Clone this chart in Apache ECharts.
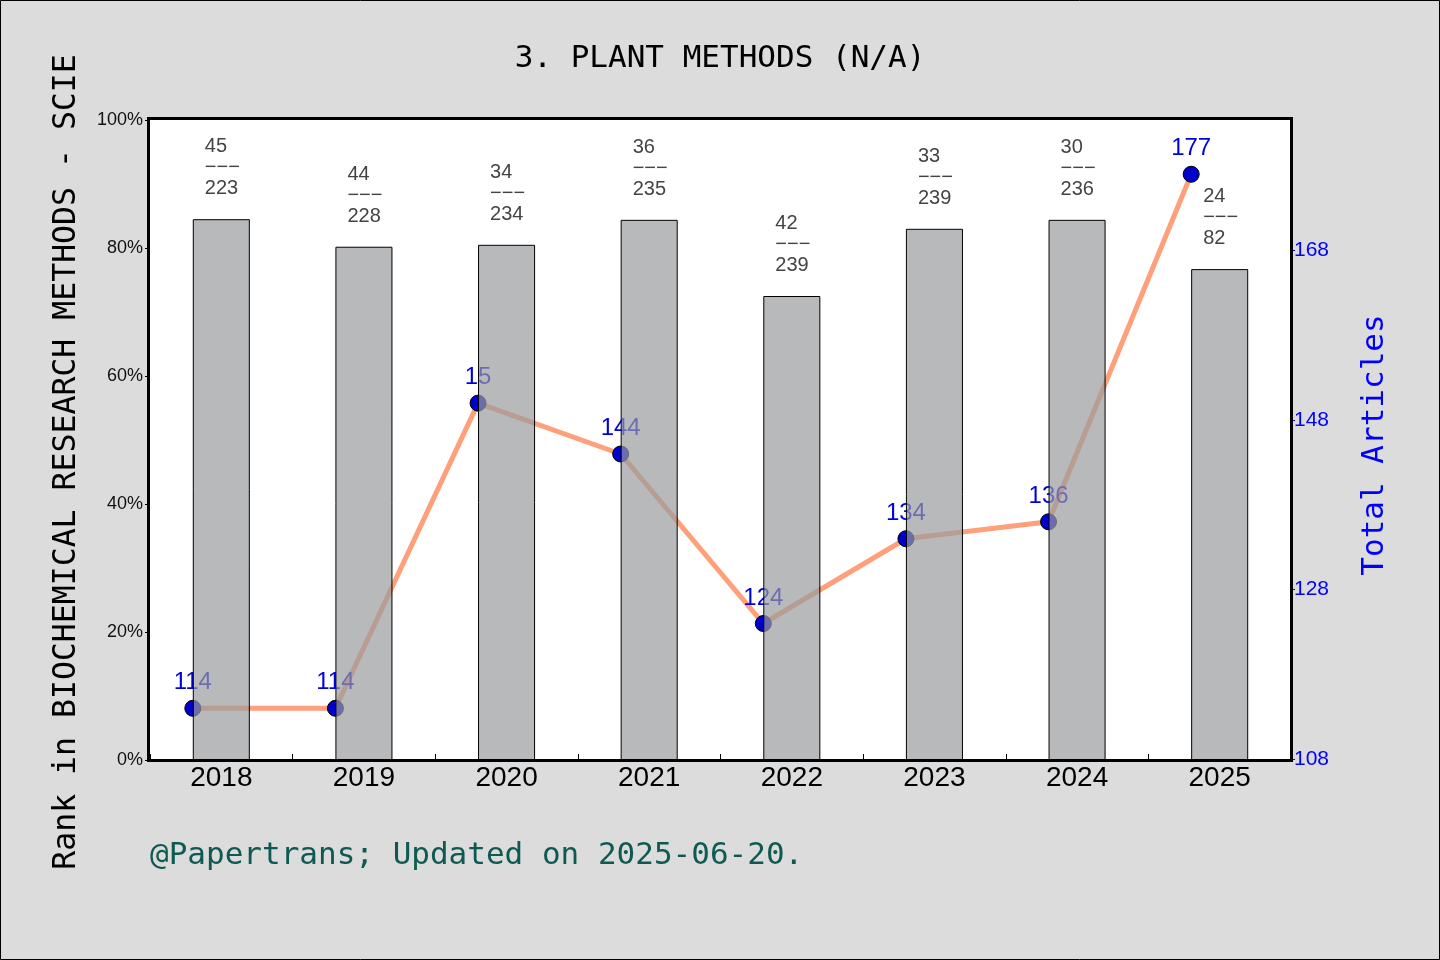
<!DOCTYPE html>
<html lang="en">
<head>
    <meta charset="UTF-8">
    <title>Plant Methods</title>
    <script src="https://cdn.jsdelivr.net/npm/echarts@6/dist/echarts.min.js"></script>
    <style>
        body { margin: 0; background: #dcdcdc; }
        #main { width: 1440px; height: 960px; }
    </style>
</head>
<body>
<div id="main"></div>
<script type="text/javascript">
    // data
    var years = ['2018', '2019', '2020', '2021', '2022', '2023', '2024', '2025'];
    var rankPct = [84.5, 80.2, 80.5, 84.4, 72.5, 83.0, 84.4, 76.7];
    var ranks = [45, 44, 34, 36, 42, 33, 30, 24];
    var totals = [223, 228, 234, 235, 239, 239, 236, 82];
    var articles = [114, 114, 150, 144, 124, 134, 136, 177];
    var articleLabels = ['114', '114', '15', '144', '124', '134', '136', '177'];
    var leftTicks = [0, 20, 40, 60, 80, 100];
    var rightTicks = [108, 128, 148, 168];

    var mono = 'DejaVu Sans Mono';
    var sans = '"Liberation Sans", Arial, sans-serif';

    var myChart = echarts.init(document.getElementById('main'));

    myChart.setOption({
        animation: false,
        backgroundColor: '#dcdcdc',
        title: {
            text: '3. PLANT METHODS (N/A)',
            left: 'center',
            top: 38,
            textStyle: { fontFamily: mono, fontSize: 31, fontWeight: 'normal', color: '#000' }
        },
        grid: [
            { left: 150, right: 149, top: 120, bottom: 200, show: true, backgroundColor: '#fff', borderWidth: 0 },
            // line grid, shifted left by half a bar so points sit on the bar's left edge
            { left: 121.5, right: 177.5, top: 120, bottom: 200, show: false }
        ],
        xAxis: [
            {
                type: 'category', gridIndex: 0, data: years,
                axisLine: { show: false },
                axisTick: { show: true, inside: true, length: 6, lineStyle: { color: '#000' } },
                axisLabel: { fontFamily: sans, fontSize: 28, color: '#000', margin: 4 }
            },
            {
                type: 'category', gridIndex: 1, data: years, show: false
            }
        ],
        yAxis: [
            {
                type: 'value', gridIndex: 0, min: 0, max: 100,
                splitLine: { show: false },
                axisLine: { show: false },
                axisTick: { show: true, length: 5, customValues: leftTicks, lineStyle: { color: '#000' } },
                axisLabel: { customValues: leftTicks, formatter: '{value}%', fontFamily: sans, fontSize: 18, color: '#111', margin: 7 }
            },
            {
                type: 'value', gridIndex: 1, position: 'right', offset: 28.5, min: 107.9, max: 183.4,
                splitLine: { show: false },
                axisLine: { show: false },
                axisTick: { show: true, length: 4, customValues: rightTicks, lineStyle: { color: 'blue' } },
                axisLabel: { customValues: rightTicks, fontFamily: sans, fontSize: 21, color: 'blue', margin: 3 }
            }
        ],
        graphic: [
            {
                type: 'rect', z: 100, silent: true,
                shape: { x: 148.5, y: 118.5, width: 1143, height: 642 },
                style: { fill: 'none', stroke: '#000', lineWidth: 3 }
            },
            {
                type: 'rect', z: 100, silent: true,
                shape: { x: 0.5, y: 0.5, width: 1439, height: 959 },
                style: { fill: 'none', stroke: '#000', lineWidth: 1 }
            },
            {
                type: 'text', x: 67, y: 462, rotation: Math.PI / 2,
                style: {
                    text: 'Rank in BIOCHEMICAL RESEARCH METHODS - SCIE',
                    font: '31.5px ' + mono, fill: '#000', align: 'center', verticalAlign: 'middle'
                }
            },
            {
                type: 'text', x: 1375, y: 445, rotation: Math.PI / 2,
                style: {
                    text: 'Total Articles',
                    font: '31px ' + mono, fill: 'blue', align: 'center', verticalAlign: 'middle'
                }
            },
            {
                type: 'text', x: 150, y: 856,
                style: {
                    text: '@Papertrans; Updated on 2025-06-20.',
                    font: '31px ' + mono, fill: '#0e5a52', align: 'left', verticalAlign: 'middle'
                }
            }
        ],
        series: [
            {
                name: 'Total Articles',
                type: 'line',
                xAxisIndex: 1, yAxisIndex: 1,
                z: 2,
                data: articles,
                symbol: 'circle',
                symbolSize: 16,
                lineStyle: { color: '#ffa07a', width: 5 },
                itemStyle: { color: '#0000cd', borderColor: '#000', borderWidth: 1 },
                label: {
                    show: true, position: 'top', distance: 5,
                    fontFamily: sans, fontSize: 24, color: '#0000dd',
                    formatter: function (p) { return articleLabels[p.dataIndex]; }
                }
            },
            {
                name: 'Rank',
                type: 'bar',
                xAxisIndex: 0, yAxisIndex: 0,
                z: 3,
                data: rankPct,
                barWidth: '40%',
                itemStyle: { color: 'rgba(154,155,158,0.7)', borderColor: '#000', borderWidth: 1 },
                label: {
                    show: true, position: 'top', distance: 20,
                    align: 'left', offset: [-16.5, 0],
                    fontFamily: sans, fontSize: 20, lineHeight: 21, color: '#444',
                    formatter: function (p) {
                        return ranks[p.dataIndex] + '\n\u2212\u2212\u2212\n' + totals[p.dataIndex];
                    }
                }
            }
        ]
    });
</script>
</body>
</html>
